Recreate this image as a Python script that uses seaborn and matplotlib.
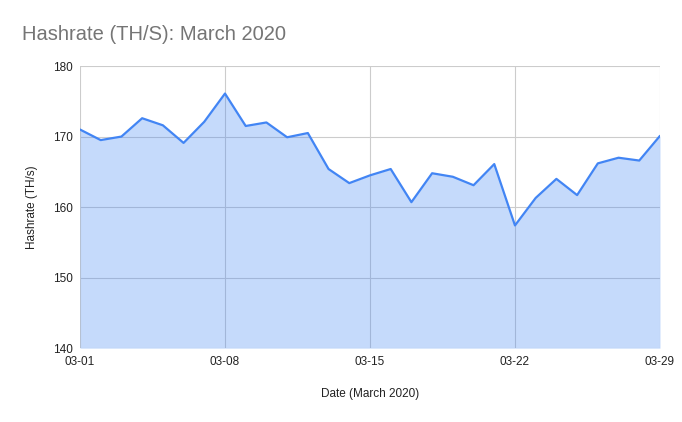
import matplotlib
matplotlib.use("Agg")
import matplotlib.pyplot as plt
import pandas as pd
import seaborn as sns

# Data
dates = [f"03-{d:02d}" for d in range(1, 30)]
hashrate = [171.0, 169.5, 170.0, 172.6, 171.6, 169.1, 172.1, 176.1, 171.5, 172.0,
            169.9, 170.5, 165.4, 163.4, 164.5, 165.4, 160.7, 164.8, 164.3, 163.1,
            166.1, 157.4, 161.3, 164.0, 161.7, 166.2, 167.0, 166.6, 170.1]
tick_labels = ["03-01", "03-08", "03-15", "03-22", "03-29"]

df = pd.DataFrame({"day": range(len(dates)), "date": dates, "hashrate": hashrate})

sns.set_style("white")
plt.rcParams["font.family"] = ["Liberation Sans", "DejaVu Sans"]

fig = plt.figure(figsize=(6.82, 4.22), dpi=100)
ax = fig.add_axes([0.1173, 0.175, 0.8504, 0.6685])

# grid under a semi-transparent area, like the original
ax.set_axisbelow(True)
ax.grid(True, color="#cccccc", linewidth=0.8)
ax.fill_between(df["day"], df["hashrate"], 140, color="#4285f4", alpha=0.3, linewidth=0)
sns.lineplot(data=df, x="day", y="hashrate", ax=ax, color="#4285f4", linewidth=1.6)

ax.set_xlim(0, len(dates) - 1)
ax.set_ylim(140, 180)
ax.set_yticks([140, 150, 160, 170, 180])
ticks = [dates.index(t) for t in tick_labels]
ax.set_xticks(ticks)
ax.set_xticklabels(tick_labels)
for s in ax.spines.values():
    s.set_visible(False)
ax.tick_params(length=0, labelsize=8.5, colors="#222222")
ax.tick_params(axis="x", pad=6)
ax.tick_params(axis="y", pad=5)

ax.set_xlabel("Date (March 2020)", fontsize=8.5, color="#222222", labelpad=14)
ax.set_ylabel("Hashrate (TH/s)", fontsize=8.5, color="#222222", labelpad=11)
fig.text(0.032, 0.905, "Hashrate (TH/S): March 2020", fontsize=14.5, color="#757575",
         va="baseline")

fig.savefig("out.png", dpi=100)
